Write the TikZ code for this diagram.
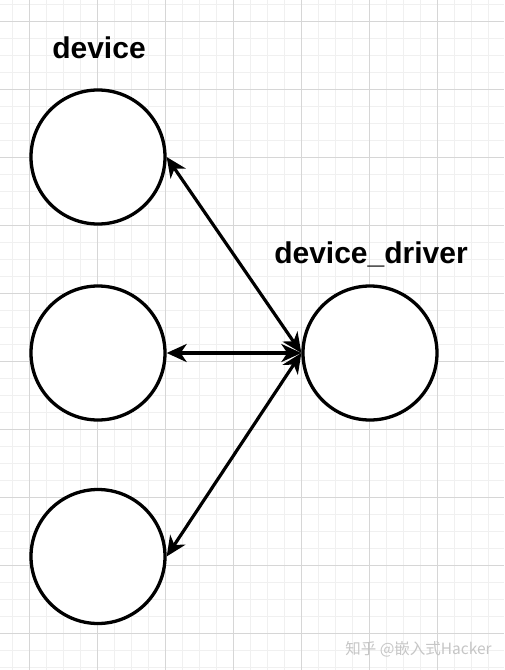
\documentclass[tikz,border=0pt]{standalone}
\usepackage{fontspec}
\usetikzlibrary{arrows.meta}
\newfontfamily\lblfont{Liberation Sans}
\newfontfamily\cjkfont{Noto Sans CJK SC}
\definecolor{minorgrid}{HTML}{F0F0F0}
\definecolor{majorgrid}{HTML}{D6D6D6}
\definecolor{markgray}{HTML}{C6C6C6}

\begin{document}
\begin{tikzpicture}[x=1pt, y=-1pt,
  dev/.style={circle, draw=black, line width=3.3pt, fill=white, minimum size=134pt, inner sep=0pt},
  lbl/.style={font=\lblfont\bfseries\fontsize{30}{36}\selectfont, anchor=base, inner sep=0pt},
  link/.style={black, line width=3.2pt, {Stealth[length=20pt,width=18pt,inset=6pt]}-{Stealth[length=20pt,width=18pt,inset=6pt]}}]
\fill[white] (0,0) rectangle (504,670);
\useasboundingbox (0,0) rectangle (504,670);
\foreach \k in {0,...,29} \draw[minorgrid, line width=1pt] (12.5+17*\k,0) --++(0,670);
\foreach \k in {0,...,39} \draw[minorgrid, line width=1pt] (0,4.5+17*\k) --++(504,0);
\foreach \k in {0,...,6} \draw[majorgrid, line width=1pt] (29.5+68*\k,0) --++(0,670);
\foreach \k in {0,...,9} \draw[majorgrid, line width=1pt] (0,21.5+68*\k) --++(504,0);

\node[dev] (dev1) at (98,157) {};
\node[dev] (dev2) at (98,353) {};
\node[dev] (dev3) at (98,556.5) {};
\node[dev] (drv) at (370,353) {};
\node[lbl] (devlbl) at (99,58.3) {device};
\node[lbl] (drvlbl) at (371,263.3) {device\_driver};

\draw[link] (dev1.east) -- (drv.west);
\draw[link] (dev2.east) -- (drv.west);
\draw[link] (dev3.east) -- (drv.west);

\node[markgray, font=\cjkfont\fontsize{15.5}{18}\selectfont, inner sep=0pt] (mark) at (418.5,649) {知乎 @嵌入式Hacker};
\end{tikzpicture}
\end{document}
